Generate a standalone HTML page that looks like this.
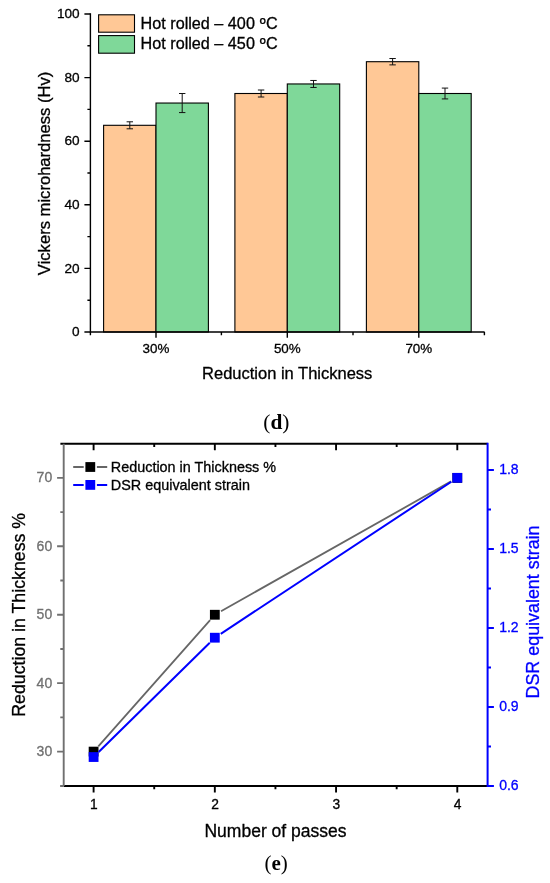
<!DOCTYPE html>
<html><head><meta charset="utf-8"><title>Figure</title>
<style>
html,body{margin:0;padding:0;background:#fff;}
body{width:550px;height:883px;overflow:hidden;}
svg{display:block;}
</style></head><body>
<svg width="550" height="883" viewBox="0 0 550 883" font-family="'Liberation Sans', Arial, sans-serif">
<rect width="550" height="883" fill="#fff"/>
<rect x="103.6" y="125.3" width="52.4" height="206.7" fill="#FFC896" stroke="#000" stroke-width="1.1"/>
<rect x="156" y="103.04" width="52.4" height="228.96" fill="#7FD899" stroke="#000" stroke-width="1.1"/>
<path d="M129.8 121.8V128.8M126.6 121.8H133M126.6 128.8H133" stroke="#111" stroke-width="1" fill="none"/>
<path d="M182.2 93.5V112.58M179 93.5H185.4M179 112.58H185.4" stroke="#111" stroke-width="1" fill="none"/>
<rect x="234.9" y="93.5" width="52.4" height="238.5" fill="#FFC896" stroke="#000" stroke-width="1.1"/>
<rect x="287.3" y="83.96" width="52.4" height="248.04" fill="#7FD899" stroke="#000" stroke-width="1.1"/>
<path d="M261.1 90V97M257.9 90H264.3M257.9 97H264.3" stroke="#111" stroke-width="1" fill="none"/>
<path d="M313.5 80.46V87.46M310.3 80.46H316.7M310.3 87.46H316.7" stroke="#111" stroke-width="1" fill="none"/>
<rect x="366.4" y="61.7" width="52.4" height="270.3" fill="#FFC896" stroke="#000" stroke-width="1.1"/>
<rect x="418.8" y="93.5" width="52.4" height="238.5" fill="#7FD899" stroke="#000" stroke-width="1.1"/>
<path d="M392.6 58.52V64.88M389.4 58.52H395.8M389.4 64.88H395.8" stroke="#111" stroke-width="1" fill="none"/>
<path d="M445 88.09V98.91M441.8 88.09H448.2M441.8 98.91H448.2" stroke="#111" stroke-width="1" fill="none"/>
<path d="M90.4 13.3V332M89.7 332.0H484.6" stroke="#000" stroke-width="1.4" fill="none"/>
<path d="M84.4 332H90.4M84.4 268.4H90.4M84.4 204.8H90.4M84.4 141.2H90.4M84.4 77.6H90.4M84.4 14H90.4M87.4 300.2H90.4M87.4 236.6H90.4M87.4 173H90.4M87.4 109.4H90.4M87.4 45.8H90.4M156 332.0V337.8M287.3 332.0V337.8M418.8 332.0V337.8M90.4 332.0V335.2M221.4 332.0V335.2M353 332.0V335.2M484.4 332.0V335.2" stroke="#000" stroke-width="1.4" fill="none"/>
<text stroke="#000" stroke-width="0.3" x="79.6" y="336.1" text-anchor="end" font-size="13.6">0</text>
<text stroke="#000" stroke-width="0.3" x="79.6" y="272.5" text-anchor="end" font-size="13.6">20</text>
<text stroke="#000" stroke-width="0.3" x="79.6" y="208.9" text-anchor="end" font-size="13.6">40</text>
<text stroke="#000" stroke-width="0.3" x="79.6" y="145.3" text-anchor="end" font-size="13.6">60</text>
<text stroke="#000" stroke-width="0.3" x="79.6" y="81.7" text-anchor="end" font-size="13.6">80</text>
<text stroke="#000" stroke-width="0.3" x="79.6" y="18.1" text-anchor="end" font-size="13.6">100</text>
<text stroke="#000" stroke-width="0.3" x="156" y="352.9" text-anchor="middle" font-size="13.4">30%</text>
<text stroke="#000" stroke-width="0.3" x="287.3" y="352.9" text-anchor="middle" font-size="13.4">50%</text>
<text stroke="#000" stroke-width="0.3" x="418.8" y="352.9" text-anchor="middle" font-size="13.4">70%</text>
<text stroke="#000" stroke-width="0.3" x="287.2" y="378.8" text-anchor="middle" font-size="16.5">Reduction in Thickness</text>
<text stroke="#000" stroke-width="0.3" transform="translate(50 173.4) rotate(-90)" text-anchor="middle" font-size="16.6">Vickers microhardness (Hv)</text>
<rect x="98.6" y="14.8" width="35.9" height="17.4" fill="#FFC896" stroke="#000" stroke-width="1.1"/>
<rect x="98.6" y="35.6" width="35.9" height="17.6" fill="#7FD899" stroke="#000" stroke-width="1.1"/>
<text stroke="#000" stroke-width="0.3" x="140.6" y="29.2" font-size="16.2">Hot rolled – 400 <tspan dx="0.3">º</tspan><tspan dx="0.4">C</tspan></text>
<text stroke="#000" stroke-width="0.3" x="140.6" y="48.6" font-size="16.2">Hot rolled – 450 <tspan dx="0.3">º</tspan><tspan dx="0.4">C</tspan></text>
<text x="276.4" y="429" text-anchor="middle" font-family="'Liberation Serif', 'Times New Roman', serif" font-size="21.4">(<tspan font-weight="bold">d</tspan>)</text>
<path d="M98.31 746.29L210.12 620.06M221.01 611.26L451.11 481.39" fill="none" stroke="#666" stroke-width="1.8"/>
<rect x="88.7" y="746.7" width="9.8" height="9.8" fill="#000"/>
<rect x="209.93" y="609.85" width="9.8" height="9.8" fill="#000"/>
<rect x="452.39" y="473" width="9.8" height="9.8" fill="#000"/>
<path d="M98.66 752.05L209.77 642.69M220.76 633.8L451.36 481.73" fill="none" stroke="#0000FF" stroke-width="2"/>
<rect x="88.7" y="752.13" width="9.8" height="9.8" fill="#0000FF"/>
<rect x="209.93" y="632.81" width="9.8" height="9.8" fill="#0000FF"/>
<rect x="452.39" y="472.92" width="9.8" height="9.8" fill="#0000FF"/>
<path d="M60.4 443.7H487.6M63.7 786.0H487.6" stroke="#000" stroke-width="1.9" fill="none"/>
<path d="M63.7 443.7V786.0M60.1 786.0H63.7" stroke="#707070" stroke-width="1.9" fill="none"/>
<path d="M487.6 442.8V786.9" stroke="#0000FF" stroke-width="2" fill="none"/>
<path d="M93.6 786.0V792.5M93.6 443.7V450.2M214.83 786.0V792.5M214.83 443.7V450.2M336.06 786.0V792.5M336.06 443.7V450.2M457.29 786.0V792.5M457.29 443.7V450.2M154.22 786.0V789.3M154.22 443.7V447M275.44 786.0V789.3M275.44 443.7V447M396.67 786.0V789.3M396.67 443.7V447" stroke="#000" stroke-width="1.9" fill="none"/>
<path d="M57.1 751.6H63.7M57.1 683.17H63.7M57.1 614.75H63.7M57.1 546.32H63.7M57.1 477.9H63.7M60.3 717.39H63.7M60.3 648.96H63.7M60.3 580.54H63.7M60.3 512.11H63.7" stroke="#707070" stroke-width="1.9" fill="none"/>
<path d="M487.6 786H493.9M487.6 706.98H493.9M487.6 627.96H493.9M487.6 548.94H493.9M487.6 469.92H493.9M487.6 746.49H491M487.6 667.47H491M487.6 588.45H491M487.6 509.43H491" stroke="#0000FF" stroke-width="2" fill="none"/>
<text stroke="#000" stroke-width="0.3" x="93.9" y="808.6" text-anchor="middle" font-size="13.8">1</text>
<text stroke="#000" stroke-width="0.3" x="215.13" y="808.6" text-anchor="middle" font-size="13.8">2</text>
<text stroke="#000" stroke-width="0.3" x="336.36" y="808.6" text-anchor="middle" font-size="13.8">3</text>
<text stroke="#000" stroke-width="0.3" x="457.59" y="808.6" text-anchor="middle" font-size="13.8">4</text>
<text stroke="#707070" stroke-width="0.3" x="52.2" y="756.1" text-anchor="end" font-size="14" fill="#707070">30</text>
<text stroke="#707070" stroke-width="0.3" x="52.2" y="687.67" text-anchor="end" font-size="14" fill="#707070">40</text>
<text stroke="#707070" stroke-width="0.3" x="52.2" y="619.25" text-anchor="end" font-size="14" fill="#707070">50</text>
<text stroke="#707070" stroke-width="0.3" x="52.2" y="550.82" text-anchor="end" font-size="14" fill="#707070">60</text>
<text stroke="#707070" stroke-width="0.3" x="52.2" y="482.4" text-anchor="end" font-size="14" fill="#707070">70</text>
<text stroke="#0000FF" stroke-width="0.3" x="499.2" y="790.3" font-size="14" fill="#0000FF">0.6</text>
<text stroke="#0000FF" stroke-width="0.3" x="499.2" y="711.28" font-size="14" fill="#0000FF">0.9</text>
<text stroke="#0000FF" stroke-width="0.3" x="499.2" y="632.26" font-size="14" fill="#0000FF">1.2</text>
<text stroke="#0000FF" stroke-width="0.3" x="499.2" y="553.24" font-size="14" fill="#0000FF">1.5</text>
<text stroke="#0000FF" stroke-width="0.3" x="499.2" y="474.22" font-size="14" fill="#0000FF">1.8</text>
<text stroke="#000" stroke-width="0.3" x="275.5" y="837.1" text-anchor="middle" font-size="17.5">Number of passes</text>
<text stroke="#000" stroke-width="0.3" transform="translate(25 614.8) rotate(-90)" text-anchor="middle" font-size="17.75">Reduction in Thickness %</text>
<text stroke="#0000FF" stroke-width="0.3" transform="translate(539.3 612) rotate(-90)" text-anchor="middle" font-size="17.9" fill="#0000FF">DSR equivalent strain</text>
<path d="M73.2 467H83.7M96.9 467H107.2" stroke="#666" stroke-width="1.8"/>
<rect x="85.4" y="462.1" width="9.8" height="9.8" fill="#000"/>
<path d="M73.2 485H83.7M96.9 485H107.2" stroke="#0000FF" stroke-width="2"/>
<rect x="85.4" y="480" width="9.8" height="9.8" fill="#0000FF"/>
<text stroke="#000" stroke-width="0.3" x="110.8" y="471.6" font-size="14.4">Reduction in Thickness %</text>
<text stroke="#000" stroke-width="0.3" x="110.8" y="489.8" font-size="14.4">DSR equivalent strain</text>
<text x="276.2" y="869.6" text-anchor="middle" font-family="'Liberation Serif', 'Times New Roman', serif" font-size="21">(<tspan font-weight="bold">e</tspan>)</text>
</svg>
</body></html>
